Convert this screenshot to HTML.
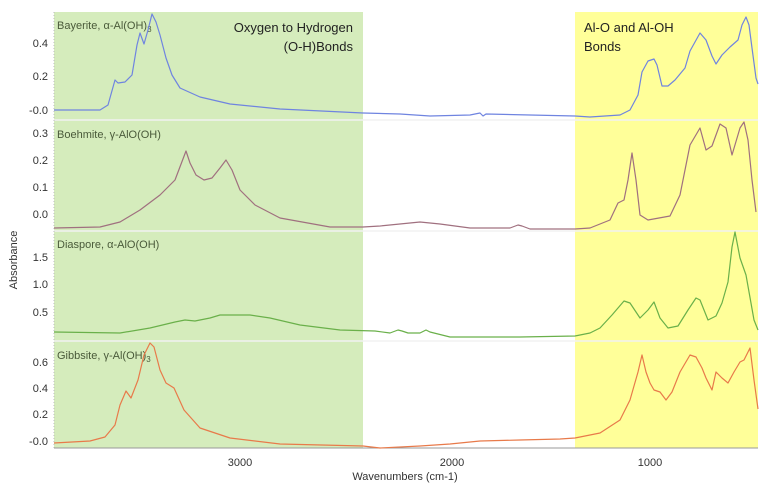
<!DOCTYPE html>
<html><head><meta charset="utf-8"><style>
body{margin:0;background:#fff}
svg{display:block;font-family:"Liberation Sans",Arial,sans-serif}
</style></head><body>
<svg width="768" height="490" viewBox="0 0 768 490">
<rect x="54" y="12" width="309" height="436" fill="#d5ecbc"/>
<rect x="575" y="12" width="183" height="436" fill="#ffff99"/>
<g stroke="#f2f2f2" stroke-width="1.5">
<line x1="54" y1="120" x2="758" y2="120"/><line x1="54" y1="231" x2="758" y2="231"/><line x1="54" y1="341" x2="758" y2="341"/>
</g>
<line x1="54" y1="12" x2="54" y2="448" stroke="#bbb" stroke-dasharray="1,2"/>
<line x1="54" y1="448" x2="758" y2="448" stroke="#999"/>
<g fill="#333" font-size="11" text-anchor="end">
<text x="48" y="47">0.4</text><text x="48" y="80">0.2</text><text x="48" y="114">-0.0</text>
<text x="48" y="137">0.3</text><text x="48" y="164">0.2</text><text x="48" y="191">0.1</text><text x="48" y="218">0.0</text>
<text x="48" y="261">1.5</text><text x="48" y="288">1.0</text><text x="48" y="316">0.5</text>
<text x="48" y="366">0.6</text><text x="48" y="392">0.4</text><text x="48" y="418">0.2</text><text x="48" y="445">-0.0</text>
</g>
<g fill="#333" font-size="11" text-anchor="middle">
<text x="240" y="466">3000</text><text x="452" y="466">2000</text><text x="650" y="466">1000</text>
<text x="405" y="480">Wavenumbers (cm-1)</text>
</g>
<text transform="translate(17,260) rotate(-90)" font-size="11" fill="#333" text-anchor="middle">Absorbance</text>
<g fill="#4a5a3a" font-size="11">
<text x="57" y="29">Bayerite, α-Al(OH)<tspan font-size="8" dy="3">3</tspan></text>
<text x="57" y="138">Boehmite, γ-AlO(OH)</text>
<text x="57" y="248">Diaspore, α-AlO(OH)</text>
<text x="57" y="359">Gibbsite, γ-Al(OH)<tspan font-size="8" dy="3">3</tspan></text>
</g>
<g fill="#222" font-size="13">
<text x="353" y="32" text-anchor="end">Oxygen to Hydrogen</text>
<text x="353" y="51" text-anchor="end">(O-H)Bonds</text>
<text x="584" y="32">Al-O and Al-OH</text>
<text x="584" y="51">Bonds</text>
</g>
<g fill="none" stroke-width="1.2" stroke-linejoin="round">
<polyline stroke="#6f84e0" points="54,110 100,110 108,105 115,80 118,83 125,82 132,75 137,45 140,33 144,44 148,30 152,14 156,22 160,35 166,58 172,75 180,88 200,97 230,104 280,109 363,113 400,114 430,116 470,115 480,113 483,116 486,114 530,115 575,116 590,117 620,115 630,110 638,95 642,72 648,61 654,59 657,65 662,86 668,86 675,80 685,68 690,51 695,42 700,33 706,40 712,56 716,64 722,55 730,47 738,40 742,25 746,17 749,25 752,48 756,78 758,84"/>
<polyline stroke="#a0707f" points="54,228 100,227 120,222 140,210 160,195 175,180 186,151 190,163 196,175 204,180 212,178 220,168 226,160 232,170 240,190 255,205 280,218 330,227 363,227 380,226 420,222 440,224 470,228 510,228 518,225 522,226 530,229 575,229 590,228 610,220 618,203 624,200 628,180 632,153 636,180 640,215 648,220 670,216 680,195 690,145 700,128 706,150 712,146 720,124 726,128 732,155 740,128 744,122 748,140 752,180 756,212"/>
<polyline stroke="#6ab04a" points="54,332 120,333 150,328 175,322 185,320 195,321 210,318 220,315 250,315 270,318 300,325 340,330 375,331 390,333 398,330 402,331 408,333 420,333 426,330 430,332 450,337 520,337 575,336 590,333 600,328 612,315 624,301 630,303 640,318 648,310 654,302 660,318 668,328 678,326 688,310 696,298 700,300 708,320 716,316 722,303 728,282 732,247 735,232 740,258 746,275 754,320 758,330"/>
<polyline stroke="#e87a4a" points="54,443 90,441 105,437 115,425 120,405 126,391 131,398 138,380 144,355 150,343 154,347 160,370 166,383 174,388 184,410 200,428 230,438 280,444 363,446 380,448 420,446 450,444 480,441 520,440 560,439 575,438 600,433 620,420 630,400 638,372 642,355 646,372 650,383 654,390 660,392 666,400 672,392 680,372 690,355 696,357 702,368 706,378 712,390 716,372 722,378 728,383 734,372 740,362 744,360 750,348 754,380 758,409"/>
</g>
</svg>
</body></html>
